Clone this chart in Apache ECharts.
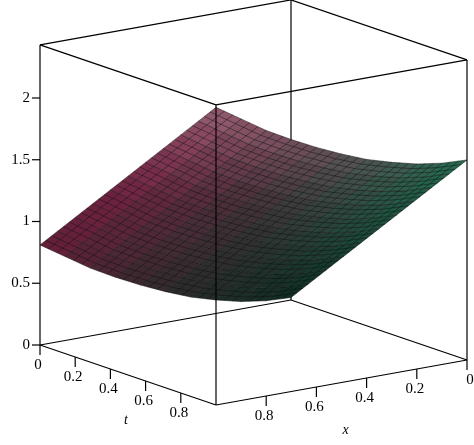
<!DOCTYPE html>
<html>
<head>
<meta charset="utf-8">
<script src="https://cdn.jsdelivr.net/npm/echarts@6/dist/echarts.min.js"></script>
<style>html,body{margin:0;padding:0;background:#fff}#main{width:474px;height:445px}</style>
</head>
<body>
<div id="main"></div>
<script>
// grid values
var tVals = [0, 0.1, 0.2, 0.3, 0.4, 0.5, 0.6, 0.7, 0.8, 0.9, 1];
var xVals = [0, 0.1, 0.2, 0.3, 0.4, 0.5, 0.6, 0.7, 0.8, 0.9, 1];
var zVals = [
    [0.02, 0.03, 0.06, 0.11, 0.17, 0.25, 0.34, 0.44, 0.55, 0.68, 0.81],
    [0.18, 0.19, 0.22, 0.27, 0.33, 0.41, 0.50, 0.60, 0.71, 0.84, 0.97],
    [0.34, 0.35, 0.38, 0.43, 0.49, 0.57, 0.66, 0.76, 0.87, 1.00, 1.13],
    [0.50, 0.51, 0.54, 0.59, 0.65, 0.73, 0.82, 0.92, 1.03, 1.16, 1.29],
    [0.66, 0.67, 0.70, 0.75, 0.81, 0.89, 0.98, 1.08, 1.19, 1.32, 1.45],
    [0.82, 0.83, 0.86, 0.91, 0.97, 1.05, 1.14, 1.24, 1.35, 1.48, 1.61],
    [0.98, 0.99, 1.02, 1.07, 1.13, 1.21, 1.30, 1.40, 1.51, 1.64, 1.77],
    [1.14, 1.15, 1.18, 1.23, 1.29, 1.37, 1.46, 1.56, 1.67, 1.80, 1.93],
    [1.30, 1.31, 1.34, 1.39, 1.45, 1.53, 1.62, 1.72, 1.83, 1.96, 2.09],
    [1.46, 1.47, 1.50, 1.55, 1.61, 1.69, 1.78, 1.88, 1.99, 2.12, 2.25],
    [1.62, 1.63, 1.66, 1.71, 1.77, 1.85, 1.94, 2.04, 2.15, 2.28, 2.41]
];
var zTicks = [0, 0.5, 1, 1.5, 2];
var tTicks = [0, 0.2, 0.4, 0.6, 0.8];
var xTicks = [0, 0.2, 0.4, 0.6, 0.8];
var zTop = 2.43;

// simple fixed projection (t, x, z) -> page units
function proj(t, x, z) {
    return [40 + 176 * t + 251 * (1 - x), 345 + 60 * t - 45 * (1 - x) - 123.5 * z];
}

function colorAt(x, t, z) {
    var r = 165 * x + 45 * (1 - x), g = 45 * x + 140 * (1 - x), b = 90 * x + 105 * (1 - x);
    var k = 0.32 + 0.5 * z / 2.4 + 0.15 * Math.abs(x - t);
    var w = Math.max(0, (z - 1.3) / 1.1) * 0.5 * x * t;
    r = r * k * (1 - w) + 170 * w; g = g * k * (1 - w) + 160 * w; b = b * k * (1 - w) + 160 * w;
    return 'rgb(' + Math.round(r) + ',' + Math.round(g) + ',' + Math.round(b) + ')';
}

var cells = [];
for (var i = 0; i < tVals.length - 1; i++)
    for (var j = 0; j < xVals.length - 1; j++) cells.push([i, j, i + j]);
cells.sort(function (a, b) { return a[2] - b[2]; });

var font = '15px "Liberation Serif"';
var mesh = 'rgba(15,15,15,0.6)';

function boxItem(params, api, front) {
    var c = function (t, x, z) { return api.coord(proj(t, x, z)); };
    var kids = [];
    var line = function (a, b) {
        kids.push({type: 'line', shape: {x1: a[0], y1: a[1], x2: b[0], y2: b[1]}, style: {stroke: '#000', lineWidth: 1.2}});
    };
    if (!front) {
        line(c(0, 1, 0), c(0, 0, 0)); line(c(0, 0, 0), c(1, 0, 0));
        line(c(0, 0, 0), c(0, 0, zTop));
        line(c(0, 1, zTop), c(0, 0, zTop)); line(c(0, 0, zTop), c(1, 0, zTop));
        line(c(0, 1, zTop), c(1, 1, zTop)); line(c(1, 1, zTop), c(1, 0, zTop));
        return {type: 'group', children: kids};
    }
    line(c(0, 1, 0), c(1, 1, 0)); line(c(1, 1, 0), c(1, 0, 0));
    line(c(0, 1, 0), c(0, 1, zTop)); line(c(1, 1, 0), c(1, 1, zTop)); line(c(1, 0, 0), c(1, 0, zTop));
    zTicks.forEach(function (z) {
        var p = c(0, 1, z);
        line(p, [p[0] - 8, p[1]]);
        kids.push({type: 'text', style: {text: String(z), x: p[0] - 10, y: p[1], align: 'right', verticalAlign: 'middle', font: font, fill: '#000'}});
    });
    tTicks.forEach(function (t) {
        var p = c(t, 1, 0);
        line(p, [p[0], p[1] + 10]);
        kids.push({type: 'text', style: {text: String(t), x: p[0] - 2, y: p[1] + 13, align: 'center', verticalAlign: 'top', font: font, fill: '#000'}});
    });
    xTicks.forEach(function (x) {
        var p = c(1, x, 0);
        line(p, [p[0], p[1] + 10]);
        kids.push({type: 'text', style: {text: String(x), x: p[0] + (x === 0 ? 3 : -2), y: p[1] + 13, align: 'center', verticalAlign: 'top', font: font, fill: '#000'}});
    });
    var pt = c(0.5, 1, 0), px = c(1, 0.5, 0);
    kids.push({type: 'text', style: {text: 't', x: pt[0] - 2, y: pt[1] + 45, align: 'center', verticalAlign: 'middle', font: 'italic 14px "Liberation Serif"', fill: '#000'}});
    kids.push({type: 'text', style: {text: 'x', x: px[0] + 4, y: px[1] + 48, align: 'center', verticalAlign: 'middle', font: 'italic 14px "Liberation Serif"', fill: '#000'}});
    return {type: 'group', children: kids};
}

var chart = echarts.init(document.getElementById('main'));
chart.setOption({
    animation: false,
    grid: {left: 0, right: 0, top: 0, bottom: 0},
    xAxis: {type: 'value', min: 0, max: 474, show: false},
    yAxis: {type: 'value', min: 0, max: 445, inverse: true, show: false},
    series: [{
        type: 'custom',
        data: [[0]],
        renderItem: function (params, api) { return boxItem(params, api, false); }
    }, {
        type: 'custom',
        data: cells,
        renderItem: function (params, api) {
            var i = api.value(0), j = api.value(1);
            var q = [[i, j], [i + 1, j], [i + 1, j + 1], [i, j + 1]];
            var pts = q.map(function (a) {
                return api.coord(proj(tVals[a[0]], xVals[a[1]], zVals[a[0]][a[1]]));
            });
            var xm = (xVals[j] + xVals[j + 1]) / 2, tm = (tVals[i] + tVals[i + 1]) / 2;
            var zm = (zVals[i][j] + zVals[i + 1][j + 1]) / 2;
            var kids = [{type: 'polygon', shape: {points: pts}, style: {fill: colorAt(xm, tm, zm), stroke: mesh, lineWidth: 0.8}}];
            // inner mesh lines at thirds
            var lerp = function (a, b, f) { return [a[0] + (b[0] - a[0]) * f, a[1] + (b[1] - a[1]) * f]; };
            [1 / 3, 2 / 3].forEach(function (f) {
                var a = lerp(pts[0], pts[1], f), b = lerp(pts[3], pts[2], f);
                var d = lerp(pts[0], pts[3], f), e = lerp(pts[1], pts[2], f);
                kids.push({type: 'line', shape: {x1: a[0], y1: a[1], x2: b[0], y2: b[1]}, style: {stroke: mesh, lineWidth: 0.8}});
                kids.push({type: 'line', shape: {x1: d[0], y1: d[1], x2: e[0], y2: e[1]}, style: {stroke: mesh, lineWidth: 0.8}});
            });
            return {type: 'group', children: kids};
        }
    }, {
        type: 'custom',
        data: [[0]],
        renderItem: function (params, api) { return boxItem(params, api, true); }
    }]
});
</script>
</body>
</html>
